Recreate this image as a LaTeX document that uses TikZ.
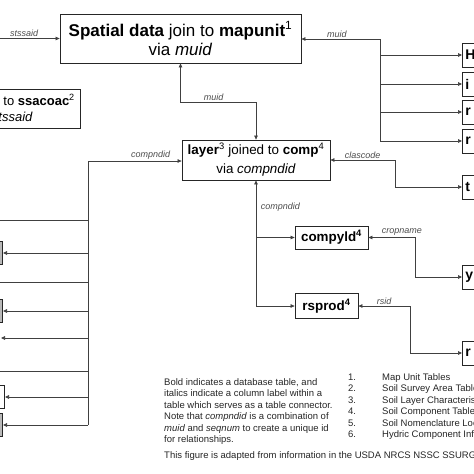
\documentclass[tikz,border=0pt]{standalone}
\usepackage{fontspec}
\setmainfont{Liberation Sans}
\usetikzlibrary{arrows.meta,positioning,calc}

\begin{document}
\begin{tikzpicture}[
    x=1pt, y=-1pt,
    tbl/.style={
        draw=black!85, line width=0.8pt, fill=white,
        inner sep=0pt, align=center
    },
    edgebox/.style={
        tbl, anchor=west, minimum width=40pt, minimum height=24pt,
        text width=34pt, align=left,
        font=\fontsize{14}{15}\selectfont\bfseries
    },
    stub/.style={
        draw=black!85, line width=0.8pt, fill=#1,
        minimum width=20pt, minimum height=23pt,
        anchor=east, inner sep=0pt
    },
    arr/.style={-{Triangle[length=4pt,width=3.6pt]}, line width=0.7pt, black!75},
    dbl/.style={{Triangle[length=4pt,width=3.6pt]}-{Triangle[length=4pt,width=3.6pt]},
        line width=0.7pt, black!75},
    ln/.style={line width=0.7pt, black!75},
    lbl/.style={font=\fontsize{9}{10}\selectfont\itshape, text=black!70, inner sep=1.5pt},
    note/.style={font=\fontsize{9.5}{11.5}\selectfont, text=black!85,
        inner sep=0pt, align=left, anchor=north west}
]
    \useasboundingbox (0,0) rectangle (474,474);

    % Join boxes
    \node[tbl, minimum width=241pt, minimum height=49pt,
        font=\fontsize{17}{19}\selectfont] (mapunit) at (180.5,38.5)
        {\textbf{Spatial data} join to \textbf{mapunit}\textsuperscript{1}\\ via \textit{muid}};
    \node[tbl, minimum width=148pt, minimum height=40pt,
        font=\fontsize{13.4}{19}\selectfont] (layer) at (256,160)
        {\textbf{layer}\textsuperscript{3} joined to \textbf{comp}\textsuperscript{4}\\ via \textit{compndid}};

    % Box cut by the left edge
    \node[tbl, minimum width=140pt, minimum height=39pt] (ssacoac) at (10,108.5) {};
    \node[anchor=east, inner sep=0pt, font=\fontsize{13}{15}\selectfont] (ssatop) at (75,100)
        {to \textbf{ssacoac}\textsuperscript{2}};
    \node[anchor=east, inner sep=0pt, font=\fontsize{13}{15}\selectfont] (ssabot) at (33,117)
        {\textit{stssaid}};

    % Component tables
    \node[tbl, minimum width=73pt, minimum height=23pt,
        font=\fontsize{13.4}{15}\selectfont\bfseries] (compyld) at (331.5,237.5)
        {compyld\textsuperscript{4}};
    \node[tbl, minimum width=63pt, minimum height=25pt,
        font=\fontsize{13.4}{15}\selectfont\bfseries] (rsprod) at (326.5,306)
        {rsprod\textsuperscript{4}};

    % Tables cut by the right edge
    \node[edgebox] (hb) at (462,55) {H};
    \node[edgebox] (ib) at (462,84) {i};
    \node[edgebox] (rb1) at (462,112) {r};
    \node[edgebox] (rb2) at (462,141) {r};
    \node[edgebox] (tb) at (462,187) {t};
    \node[edgebox] (yb) at (462,277) {y};
    \node[edgebox] (rb3) at (462,353) {r};

    % Tables cut by the left edge
    \node[stub=gray!55] (lb1) at (3,253) {};
    \node[stub=gray!55] (lb2) at (3,311) {};
    \node[stub=white] (lb3) at (5,397) {};
    \node[stub=gray!55] (lb4) at (3,425) {};

    % Connectors to mapunit
    \coordinate (stsin) at (-5,38.5);
    \draw[arr] (stsin) -- node[lbl, above, pos=0.45] {stssaid} (stsin -| mapunit.west);
    \coordinate (jmu) at (380,39);
    \draw[arr] (jmu) -- node[lbl, above, pos=0.55] {muid} (jmu -| mapunit.east);
    \draw[ln] (jmu) -- (jmu |- rb2);
    \draw[arr] (jmu |- hb) -- (hb);
    \draw[arr] (jmu |- ib) -- (ib);
    \draw[arr] (jmu |- rb1) -- (rb1);
    \draw[arr] (jmu |- rb2) -- (rb2);

    % mapunit to layer
    \coordinate (mbend) at (256,102);
    \draw[dbl] (mapunit.south) |- node[lbl, above, pos=0.72] {muid} (mbend) -- (layer.north);

    % layer to the right
    \coordinate (cbend) at (395,160);
    \draw[dbl] (layer.east) -- node[lbl, above, pos=0.5] {clascode} (cbend) |- (tb);

    % layer to component tables
    \draw[arr] (layer.south |- rsprod) -- node[lbl, right=3pt, pos=0.79] {compndid} (layer.south);
    \draw[arr] (layer.south |- compyld) -- (compyld);
    \draw[arr] (layer.south |- rsprod) -- (rsprod);
    \coordinate (cpbend) at (415,237.5);
    \draw[dbl] (compyld.east) -- node[lbl, above, pos=0.72] {cropname} (cpbend) |- (yb);
    \coordinate (rsbend) at (410,306);
    \draw[dbl] (rsprod.east) -- node[lbl, above, pos=0.5] {rsid} (rsbend) |- (rb3);

    % layer to the left
    \coordinate (ljunc) at (88,161);
    \draw[arr] (ljunc) -- node[lbl, above, pos=0.67] {compndid} (ljunc -| layer.west);
    \draw[ln] (ljunc) -- (ljunc |- lb4);
    \coordinate (lo1) at (-5,220);
    \coordinate (lo2) at (-5,282);
    \coordinate (lo3) at (1,338);
    \coordinate (lo4) at (-5,371);
    \draw[ln] (ljunc |- lo1) -- (lo1);
    \draw[ln] (ljunc |- lo2) -- (lo2);
    \draw[arr] (ljunc |- lo3) -- (lo3);
    \draw[ln] (ljunc |- lo4) -- (lo4);
    \draw[arr] (ljunc |- lb1) -- (lb1);
    \draw[arr] (ljunc |- lb2) -- (lb2);
    \draw[arr] (ljunc |- lb3) -- (lb3);
    \draw[arr] (ljunc |- lb4) -- (lb4);

    % Notes
    \node[note] (legend) at (164,378)
        {Bold indicates a database table, and\\
         italics indicate a column label within a\\
         table which serves as a table connector.\\
         Note that \textit{compndid} is a combination of\\
         \textit{muid} and \textit{seqnum} to create a unique id\\
         for relationships.};
    \node[note] (source) at (164,451)
        {This figure is adapted from information in the USDA NRCS NSSC SSURGO};
    \node[note] (keys) at (348,372)
        {\begin{tabular}{@{}p{34pt}@{}l@{}}
         1. & Map Unit Tables\\
         2. & Soil Survey Area Tables\\
         3. & Soil Layer Characteristics\\
         4. & Soil Component Tables\\
         5. & Soil Nomenclature Lookup\\
         6. & Hydric Component Information
         \end{tabular}};
\end{tikzpicture}
\end{document}
